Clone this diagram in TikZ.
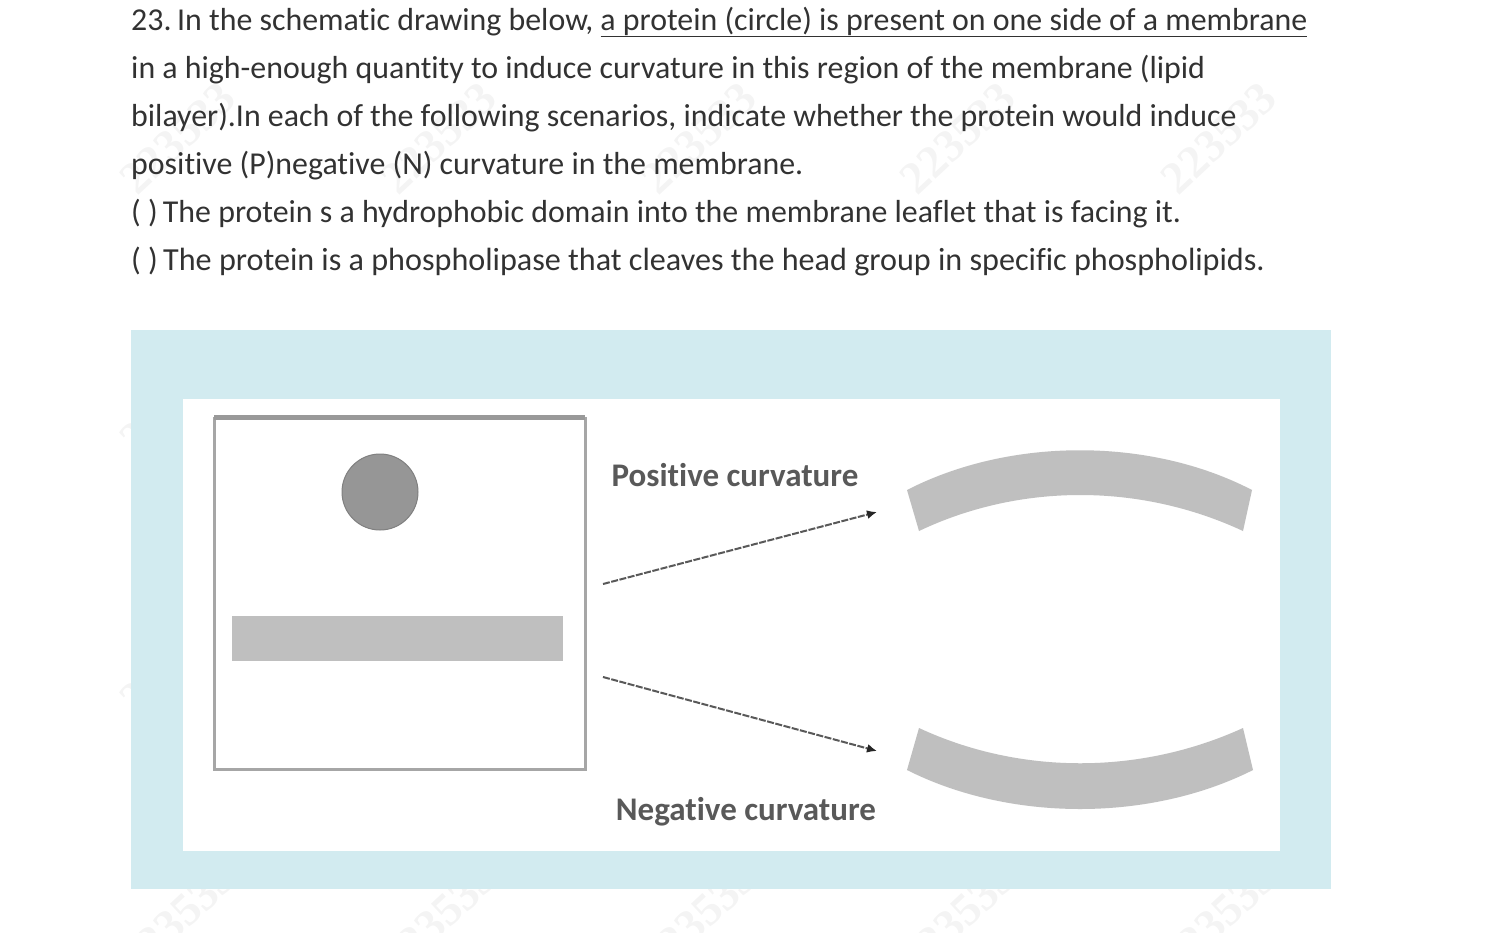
\documentclass[tikz,border=0pt]{standalone}
\usepackage{fontspec}
\setmainfont[Ligatures=NoCommon]{Carlito}
\newfontfamily\markfont{Liberation Serif}
\usepackage{xcolor}
\definecolor{panelBlue}{RGB}{210, 235, 240}
\definecolor{bandGray}{RGB}{191, 191, 191}
\definecolor{proteinGray}{RGB}{150, 150, 150}
\definecolor{textGray}{RGB}{50, 50, 50}
\definecolor{markGray}{RGB}{244, 244, 244}
\usepackage{tikz}
\usetikzlibrary{positioning,arrows.meta}
\tikzset{
  questionline/.style={anchor=base west, inner sep=0pt, text=textGray, font=\fontsize{#1}{#1}\selectfont},
  questionline/.default=31.88,
  curvelabel/.style={anchor=base, inner sep=0pt, text=black!65, font=\bfseries\fontsize{33}{33}\selectfont},
  curvearrow/.style={draw=black!65, line width=2pt, dash pattern=on 7pt off 1.5pt, -{Latex[length=10pt,width=9pt,black!85]}},
  watermark/.style={inner sep=0pt, text=markGray, rotate=43, font=\markfont\bfseries\fontsize{46}{46}\selectfont},
}
\begin{document}
\begin{tikzpicture}[x=1pt, y=-1pt]
\useasboundingbox (0,0) rectangle (1511,932);
% watermarks
\foreach \wx in {178, 439, 699, 958, 1219}
  \foreach \wy in {138, 398, 658, 918}
    \node[watermark] (mark\wx\wy) at (\wx,\wy) {223533};
% question text
\node[questionline] (line1) at (131,30) {23.\kern-4pt{} In the schematic drawing below, \underline{a protein (circle) is present on one side of a membrane}};
\node[questionline] (line2) at (131,78) {in a high-enough quantity to induce curvature in this region of the membrane (lipid};
\node[questionline] (line3) at (131,126) {bilayer).In each of the following scenarios, indicate whether the protein would induce};
\node[questionline] (line4) at (131,174) {positive (P)negative (N) curvature in the membrane.};
\node[questionline] (line5) at (131,222) {( )\kern-2pt{} The protein s a hydrophobic domain into the membrane leaflet that is facing it.};
\node[questionline=32.15] (line6) at (131,270) {( )\kern-2pt{} The protein is a phospholipase that cleaves the head group in specific phospholipids.};
% panel
\fill[panelBlue] (131,330) rectangle (1331,889);
\fill[white] (183,399) rectangle (1280,851);
\draw[black!35, line width=3pt] (214,418) rectangle (585,769);
\draw[black!40, line width=5pt] (214,417) -- (585,417);
\node[circle, fill=proteinGray, draw=black!50, line width=1pt, minimum size=76pt, inner sep=0pt] (protein) at (380,492) {};
\fill[bandGray] (232,616) rectangle (563,661);
% labels
\node[curvelabel] (poslabel) at (735,486) {Positive curvature};
\node[curvelabel] (neglabel) at (746,820) {Negative curvature};
% arrows
\coordinate (posstart) at (603,584);
\coordinate (posend) at (877,512);
\coordinate (negstart) at (603,677);
\coordinate (negend) at (877,751);
\draw[curvearrow] (posstart) -- (posend);
\draw[curvearrow] (negstart) -- (negend);
% bands
\fill[bandGray] (907,490) .. controls (1010,437) and (1150,437) .. (1252,490)
  -- (1243,531) .. controls (1140,483) and (1020,483) .. (919,531) -- cycle;
\fill[bandGray] (919,728) .. controls (1020,775) and (1140,775) .. (1243,728)
  -- (1253,770) .. controls (1150,822) and (1010,822) .. (907,770) -- cycle;
\end{tikzpicture}
\end{document}
